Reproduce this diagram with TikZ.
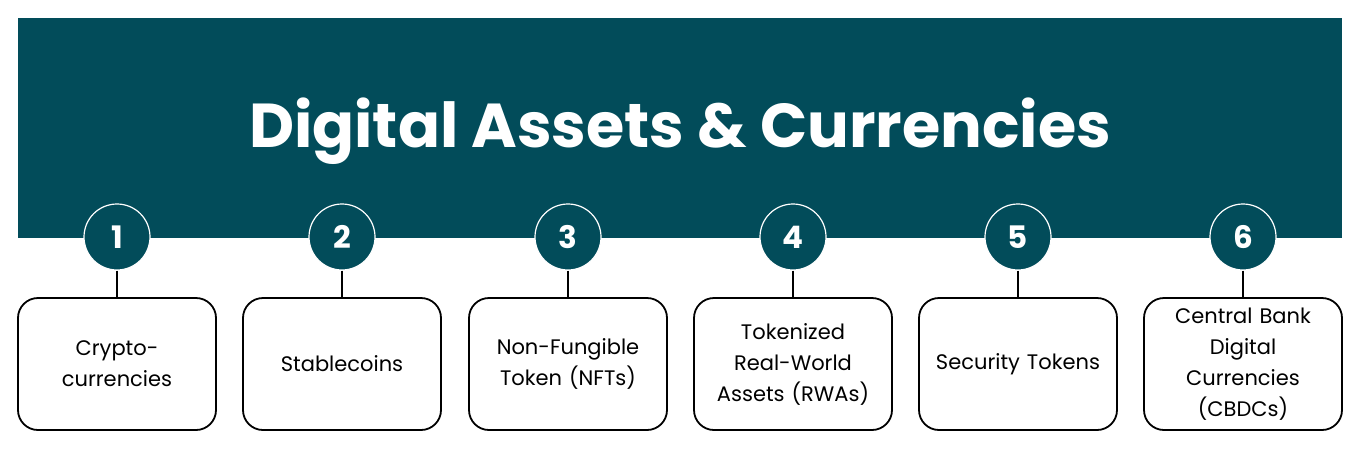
\documentclass[tikz,border=0pt]{standalone}
\usepackage{fontspec}
\setmainfont{Poppins}
\usetikzlibrary{positioning}
\definecolor{bannerteal}{HTML}{024C5A}
\tikzset{
  banner/.style={fill=bannerteal, draw=none},
  titletext/.style={text=white, font=\fontsize{62}{70}\selectfont\bfseries},
  numdot/.style={circle, fill=bannerteal, draw=white, line width=1.2pt,
                 minimum size=66pt, inner sep=0pt, text=white,
                 font=\fontsize{31}{34}\selectfont\bfseries},
  itembox/.style={rectangle, rounded corners=20pt, draw=black, fill=white,
                  line width=1.8pt, minimum width=198pt, minimum height=132pt,
                  text width=190pt, align=center, inner sep=0pt,
                  font=\fontsize{21}{31}\selectfont},
  link/.style={draw=black, line width=1.2pt},
}
\begin{document}
\begin{tikzpicture}[x=1pt, y=-1pt]
  \useasboundingbox[fill=white] (0,0) rectangle (1361,448);

  % Title banner
  \path[banner] (18, 18) rectangle (1342, 238);
  \node[titletext] (title) at (680, 131) {Digital Assets \& Currencies};

  % Item boxes
  \node[itembox] (crypto) at (117, 364) {Crypto-\\currencies};
  \node[itembox] (stable) at (342, 364) {Stablecoins};
  \node[itembox] (nft)    at (568, 364) {Non-Fungible\\Token (NFTs)};
  \node[itembox] (rwa)    at (793, 364) {Tokenized\\Real-World\\Assets (RWAs)};
  \node[itembox] (sec)    at (1018, 364) {Security Tokens};
  \node[itembox] (cbdc)   at (1243, 364) {Central Bank\\Digital\\Currencies\\(CBDCs)};

  % Number badges
  \node[numdot] (n1) at (117, 237) {1};
  \node[numdot] (n2) at (342, 237) {2};
  \node[numdot] (n3) at (568, 237) {3};
  \node[numdot] (n4) at (793, 237) {4};
  \node[numdot] (n5) at (1018, 237) {5};
  \node[numdot] (n6) at (1243, 237) {6};

  % Connectors
  \draw[link] (n1) -- (crypto);
  \draw[link] (n2) -- (stable);
  \draw[link] (n3) -- (nft);
  \draw[link] (n4) -- (rwa);
  \draw[link] (n5) -- (sec);
  \draw[link] (n6) -- (cbdc);
\end{tikzpicture}
\end{document}
